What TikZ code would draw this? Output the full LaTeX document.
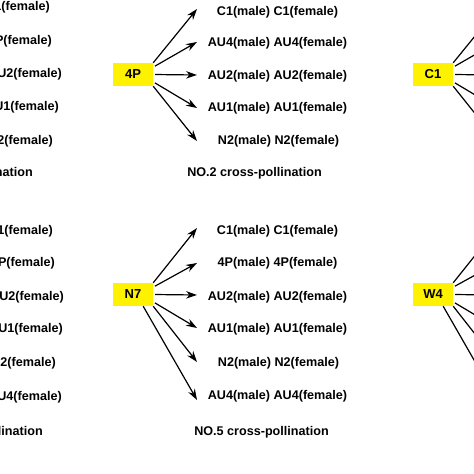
\documentclass[tikz,border=0pt]{standalone}
\usepackage{fontspec}
\setmainfont{Liberation Sans}
\usetikzlibrary{arrows.meta}
\begin{document}
\begin{tikzpicture}[x=1pt,y=-1pt,
  lab/.style={inner sep=0pt, font=\fontsize{12.6}{15}\selectfont\bfseries},
  labe/.style={lab, anchor=east},
  box/.style={fill=yellow, minimum width=40pt, minimum height=23pt, inner sep=0pt, font=\fontsize{13}{15}\selectfont\bfseries},
  arr/.style={-{Stealth[length=11pt,width=7.5pt]}, line width=1.2pt},
  gap/.style={shorten <=2pt}]
\useasboundingbox (0,0) rectangle (474,474);
\clip (0,0) rectangle (474,474);
\fill[white] (0,0) rectangle (474,474);

% ---------- top-left panel (cut off) ----------
\node[labe] (a1) at (50,7) {C1(male) C1(female)};
\node[labe] (a2) at (52,41) {4P(male) 4P(female)};
\node[labe] (a3) at (62,74) {AU2(male) AU2(female)};
\node[labe] (a4) at (59,107) {AU1(male) AU1(female)};
\node[labe] (a5) at (53,141) {N2(male) N2(female)};
\node[labe] (acap) at (33,173) {NO.1 cross-pollination};

% ---------- top-middle panel ----------
\node[box] (p4) at (133,74.5) {4P};
\node[lab] (b1) at (277.5,12) {C1(male) C1(female)};
\node[lab] (b2) at (277.5,43) {AU4(male) AU4(female)};
\node[lab] (b3) at (277.5,76) {AU2(male) AU2(female)};
\node[lab] (b4) at (277.5,108) {AU1(male) AU1(female)};
\node[lab] (b5) at (278.5,141) {N2(male) N2(female)};
\node[lab] (bcap) at (254.5,173) {NO.2 cross-pollination};
\coordinate (bt1) at (197,9);
\coordinate (bt2) at (197,42);
\coordinate (bt3) at (197,75);
\coordinate (bt4) at (197,108);
\coordinate (bt5) at (197,141);
\draw[arr] (p4.north east) -- (bt1);
\draw[arr,gap] (p4.20) -- (bt2);
\draw[arr,gap] (p4.east) -- (bt3);
\draw[arr,gap] (p4.-20) -- (bt4);
\draw[arr] (p4.south east) -- (bt5);

% ---------- top-right panel (cut off) ----------
\node[box] (c1) at (433,74.5) {C1};
\coordinate (ct1) at (497,9);
\coordinate (ct2) at (497,42);
\coordinate (ct3) at (497,75);
\coordinate (ct4) at (497,108);
\coordinate (ct5) at (497,141);
\draw[arr] (c1.north east) -- (ct1);
\draw[arr,gap] (c1.20) -- (ct2);
\draw[arr,gap] (c1.east) -- (ct3);
\draw[arr,gap] (c1.-20) -- (ct4);
\draw[arr] (c1.south east) -- (ct5);

% ---------- bottom-left panel (cut off) ----------
\node[labe] (d1) at (53,231) {C1(male) C1(female)};
\node[labe] (d2) at (55,263) {4P(male) 4P(female)};
\node[labe] (d3) at (64,297) {AU2(male) AU2(female)};
\node[labe] (d4) at (63,329) {AU1(male) AU1(female)};
\node[labe] (d5) at (56,363) {N2(male) N2(female)};
\node[labe] (d6) at (62,397) {AU4(male) AU4(female)};
\node[labe] (dcap) at (43,432) {NO.4 cross-pollination};

% ---------- bottom-middle panel ----------
\node[box] (n7) at (133,294.5) {N7};
\node[lab] (e1) at (277.5,231) {C1(male) C1(female)};
\node[lab] (e2) at (277.5,263) {4P(male) 4P(female)};
\node[lab] (e3) at (277.5,297) {AU2(male) AU2(female)};
\node[lab] (e4) at (277.5,329) {AU1(male) AU1(female)};
\node[lab] (e5) at (278.5,363) {N2(male) N2(female)};
\node[lab] (e6) at (277.5,396) {AU4(male) AU4(female)};
\node[lab] (ecap) at (261.5,432) {NO.5 cross-pollination};
\coordinate (et1) at (197,228);
\coordinate (et2) at (197,263);
\coordinate (et3) at (197,295);
\coordinate (et4) at (197,328);
\coordinate (et5) at (197,362);
\coordinate (et6) at (197,400);
\draw[arr] (n7.north east) -- (et1);
\draw[arr,gap] (n7.20) -- (et2);
\draw[arr,gap] (n7.east) -- (et3);
\draw[arr,gap] (n7.-20) -- (et4);
\draw[arr] (n7.south east) -- (et5);
\draw[arr] (n7.-49) -- (et6);

% ---------- bottom-right panel (cut off) ----------
\node[box] (w4) at (433,294.5) {W4};
\coordinate (ft1) at (497,228);
\coordinate (ft2) at (497,263);
\coordinate (ft3) at (497,295);
\coordinate (ft4) at (497,328);
\coordinate (ft5) at (497,362);
\coordinate (ft6) at (497,400);
\draw[arr] (w4.north east) -- (ft1);
\draw[arr,gap] (w4.20) -- (ft2);
\draw[arr,gap] (w4.east) -- (ft3);
\draw[arr,gap] (w4.-20) -- (ft4);
\draw[arr] (w4.south east) -- (ft5);
\draw[arr] (w4.-49) -- (ft6);
\end{tikzpicture}
\end{document}
